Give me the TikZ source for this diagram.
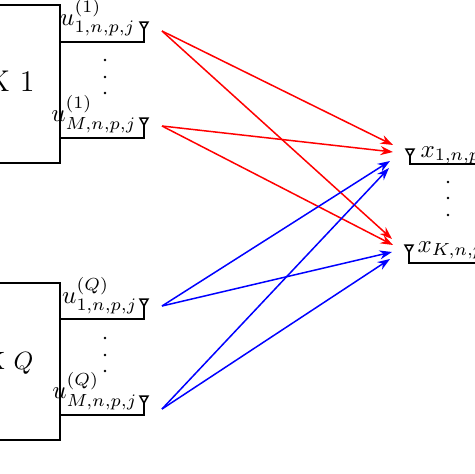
\documentclass[tikz,border=0pt]{standalone}
\usetikzlibrary{arrows.meta,calc}

\begin{document}
\begin{tikzpicture}[x=0.4pt,y=-0.4pt,
    wire/.style={thick},
    antenna/.style={semithick},
    link/.style={semithick, -{Stealth[length=5pt,width=3.6pt]}},
    label/.style={inner sep=0pt}]
  \useasboundingbox (0,0) rectangle (474,474);

  % transmitter blocks
  \draw[wire] (-120,5) rectangle (60,163);
  \draw[wire] (-120,283) rectangle (60,440);
  \node[label, anchor=base east, font=\large] (blk1) at (35,91) {K $1$};
  \node[label, anchor=base east] (blkq) at (34,369) {K $Q$};

  % transmit antennas
  \draw[wire] (60,42) -- (144,42) -- (144,29);
  \draw[antenna] (144,29) -- (140,22) -- (148,22) -- cycle;
  \draw[wire] (60,138) -- (144,138) -- (144,125);
  \draw[antenna] (144,125) -- (140,118) -- (148,118) -- cycle;
  \draw[wire] (60,319) -- (144,319) -- (144,306);
  \draw[antenna] (144,306) -- (140,299) -- (148,299) -- cycle;
  \draw[wire] (60,415) -- (144,415) -- (144,403);
  \draw[antenna] (144,403) -- (140,396) -- (148,396) -- cycle;

  \node[label, anchor=south east] (u11) at (136,36) {$u^{(1)}_{1,n,p,j}$};
  \node[label, anchor=south east] (u1m) at (137,133) {$u^{(1)}_{M,n,p,j}$};
  \node[label, anchor=south east] (uq1) at (138,314) {$u^{(Q)}_{1,n,p,j}$};
  \node[label, anchor=south east] (uqm) at (138,410) {$u^{(Q)}_{M,n,p,j}$};

  \foreach \y in {60,77,93,338,355,371}
    \fill (105,\y) circle[radius=0.55pt];

  % receive antennas
  \draw[wire] (490,164) -- (410,164) -- (410,156);
  \draw[antenna] (410,156) -- (406,149) -- (414,149) -- cycle;
  \draw[wire] (490,263) -- (409,263) -- (409,252);
  \draw[antenna] (409,252) -- (405,245) -- (413,245) -- cycle;

  \node[label, anchor=base west] (x1) at (420,157) {$x_{1,n,p,j}$};
  \node[label, anchor=base west] (xk) at (417,252) {$x_{K,n,p,j}$};

  \foreach \y in {182,198,215}
    \fill (448,\y) circle[radius=0.55pt];

  % links
  \coordinate (t1) at (162,31);
  \coordinate (tm) at (162,126);
  \coordinate (s1) at (162,306);
  \coordinate (sm) at (162,409);
  \coordinate (r1) at (392,148);
  \coordinate (r2) at (392,248);

  \draw[link, red] (t1) -- ($(r1)+(1,-3)$);
  \draw[link, red] (tm) -- ($(r1)+(1,4)$);
  \draw[link, red] (t1) -- ($(r2)+(0,-9)$);
  \draw[link, red] (tm) -- ($(r2)+(1,-3)$);
  \draw[link, blue] (s1) -- ($(r1)+(-2,13)$);
  \draw[link, blue] (sm) -- ($(r1)+(-3,20)$);
  \draw[link, blue] (s1) -- ($(r2)+(0,4)$);
  \draw[link, blue] (sm) -- ($(r2)+(-2,11)$);
\end{tikzpicture}
\end{document}
